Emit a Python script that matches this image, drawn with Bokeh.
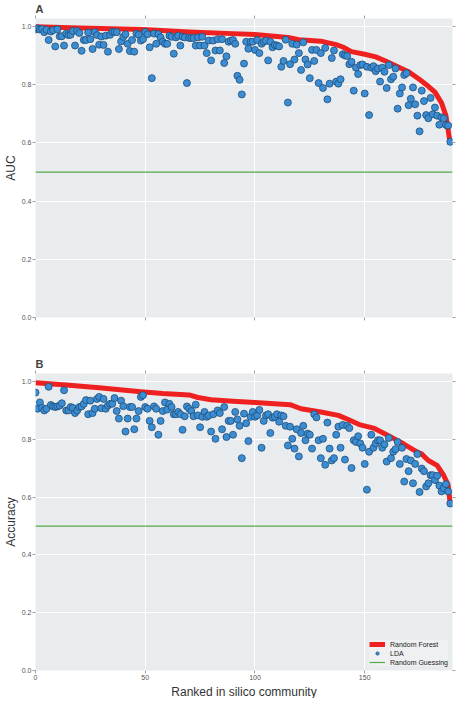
from bokeh.plotting import figure
from bokeh.models import (FixedTicker, LinearAxis, Range1d, Legend, LegendItem,
                          PrintfTickFormatter, Title)
from bokeh.layouts import column
from bokeh.embed import file_html
from bokeh.resources import INLINE

# ---------------- data ----------------
x_lim = [0, 190]
y_lim = [0.0, 1.028]
x_ticks = [0, 50, 100, 150]
y_ticks = [0.0, 0.2, 0.4, 0.6, 0.8, 1.0]
guess_level = 0.5

rank = list(range(190))

# Panel A: AUC
rf_auc_rank = [0, 20, 49, 70, 90, 100, 115, 120, 130, 137, 140, 144, 150, 155,
               160, 165, 170, 175, 179, 182, 185, 187, 188, 189]
rf_auc = [1.000, 0.995, 0.990, 0.982, 0.976, 0.973, 0.963, 0.955, 0.950, 0.938,
          0.930, 0.914, 0.905, 0.896, 0.880, 0.862, 0.845, 0.818, 0.795, 0.775,
          0.738, 0.694, 0.645, 0.595]
lda_auc = [
    0.990, 0.994, 0.990, 0.992, 0.981, 0.989, 0.954, 0.983, 0.988, 0.932,
    0.991, 0.967, 0.967, 0.935, 0.976, 0.971, 0.972, 0.985, 0.935, 0.985,
    0.978, 0.917, 0.954, 0.954, 0.980, 0.957, 0.923, 0.981, 0.971, 0.938,
    0.966, 0.937, 0.969, 0.914, 0.972, 0.982, 0.982, 0.981, 0.923, 0.949,
    0.965, 0.974, 0.941, 0.916, 0.954, 0.914, 0.976, 0.972, 0.952, 0.957,
    0.982, 0.974, 0.929, 0.823, 0.976, 0.941, 0.974, 0.963, 0.948, 0.941,
    0.941, 0.969, 0.965, 0.907, 0.963, 0.969, 0.935, 0.965, 0.963, 0.806,
    0.961, 0.961, 0.961, 0.935, 0.963, 0.935, 0.965, 0.935, 0.909, 0.952,
    0.884, 0.952, 0.918, 0.957, 0.918, 0.957, 0.875, 0.898, 0.948, 0.952,
    0.954, 0.941, 0.831, 0.817, 0.767, 0.873, 0.948, 0.924, 0.948, 0.948,
    0.920, 0.954, 0.909, 0.941, 0.948, 0.952, 0.884, 0.948, 0.929, 0.937,
    0.935, 0.932, 0.862, 0.882, 0.955, 0.739, 0.871, 0.941, 0.887, 0.938,
    0.909, 0.851, 0.946, 0.887, 0.870, 0.823, 0.920, 0.882, 0.920, 0.806,
    0.909, 0.789, 0.927, 0.750, 0.804, 0.892, 0.918, 0.811, 0.804, 0.819,
    0.905, 0.901, 0.899, 0.871, 0.879, 0.780, 0.859, 0.837, 0.868, 0.870,
    0.770, 0.862, 0.696, 0.859, 0.864, 0.847, 0.856, 0.811, 0.859, 0.845,
    0.789, 0.868, 0.819, 0.828, 0.856, 0.718, 0.770, 0.791, 0.834, 0.840,
    0.730, 0.752, 0.791, 0.733, 0.694, 0.640, 0.780, 0.744, 0.696, 0.685,
    0.755, 0.699, 0.722, 0.694, 0.663, 0.688, 0.685, 0.662, 0.660, 0.604,
]

# Panel B: Accuracy
rf_acc_rank = [0, 14, 29, 48, 58, 70, 74, 80, 90, 100, 116, 121, 130, 138, 143,
               148, 154, 160, 164, 168, 173, 176, 179, 183, 186, 188, 189]
rf_acc = [0.996, 0.988, 0.979, 0.965, 0.959, 0.954, 0.945, 0.937, 0.932, 0.928,
          0.920, 0.906, 0.895, 0.883, 0.867, 0.850, 0.839, 0.816, 0.800, 0.783,
          0.760, 0.749, 0.727, 0.710, 0.675, 0.643, 0.575]
lda_acc = [
    0.962, 0.906, 0.928, 0.909, 0.900, 0.906, 0.982, 0.919, 0.914, 0.912,
    0.914, 0.917, 0.925, 0.970, 0.900, 0.900, 0.912, 0.909, 0.891, 0.900,
    0.912, 0.914, 0.923, 0.936, 0.887, 0.934, 0.891, 0.906, 0.940, 0.947,
    0.908, 0.940, 0.906, 0.917, 0.923, 0.923, 0.943, 0.898, 0.872, 0.934,
    0.915, 0.827, 0.872, 0.912, 0.912, 0.835, 0.872, 0.898, 0.947, 0.953,
    0.912, 0.906, 0.864, 0.842, 0.914, 0.906, 0.816, 0.864, 0.898, 0.928,
    0.903, 0.923, 0.912, 0.887, 0.887, 0.895, 0.887, 0.833, 0.880, 0.914,
    0.906, 0.898, 0.880, 0.920, 0.883, 0.842, 0.878, 0.895, 0.878, 0.883,
    0.827, 0.887, 0.802, 0.900, 0.891, 0.835, 0.912, 0.808, 0.864, 0.864,
    0.816, 0.895, 0.869, 0.847, 0.735, 0.889, 0.856, 0.794, 0.878, 0.895,
    0.878, 0.883, 0.902, 0.771, 0.864, 0.883, 0.887, 0.822, 0.875, 0.878,
    0.887, 0.861, 0.883, 0.880, 0.847, 0.779, 0.844, 0.802, 0.768, 0.835,
    0.741, 0.822, 0.847, 0.797, 0.820, 0.816, 0.768, 0.887, 0.876, 0.797,
    0.735, 0.802, 0.712, 0.858, 0.768, 0.727, 0.735, 0.816, 0.844, 0.771,
    0.850, 0.730, 0.847, 0.839, 0.701, 0.797, 0.791, 0.811, 0.786, 0.771,
    0.715, 0.626, 0.757, 0.816, 0.771, 0.786, 0.797, 0.797, 0.771, 0.783,
    0.723, 0.805, 0.735, 0.757, 0.766, 0.791, 0.715, 0.771, 0.654, 0.732,
    0.690, 0.727, 0.648, 0.715, 0.749, 0.618, 0.699, 0.690, 0.637, 0.648,
    0.676, 0.676, 0.659, 0.674, 0.640, 0.620, 0.631, 0.645, 0.620, 0.578,
]

FONT = "Liberation Sans"
BG = "#e9ecee"
RED = "#ee2020"
BLUE = "#3b8dd3"
BLUE_EDGE = "#1f4e79"
GREEN = "#55a84a"


def style_axis(ax, show_labels=True):
    ax.axis_line_color = None
    ax.major_tick_line_color = "#a0a0a0"
    ax.major_tick_out = 3
    ax.major_tick_in = 0
    ax.minor_tick_line_color = None
    ax.major_label_text_font = FONT
    ax.major_label_text_font_size = "7px"
    ax.major_label_text_color = "#555555" if show_labels else None
    ax.major_label_standoff = 1
    ax.axis_label_text_font = FONT
    ax.axis_label_text_font_size = "12px"
    ax.axis_label_text_font_style = "normal"
    ax.axis_label_text_color = "#333333"
    ax.axis_label_standoff = 1


def make_panel(letter, ylabel, rf_x, rf_y, lda_y, height, top, bottom,
               show_x, with_legend):
    p = figure(width=458, height=height, output_backend="svg",
               toolbar_location=None,
               x_range=Range1d(x_lim[0], x_lim[1]),
               y_range=Range1d(y_lim[0], y_lim[1]),
               min_border_left=0, min_border_right=6,
               min_border_top=top, min_border_bottom=bottom)
    p.title.text = letter
    p.title.text_font = FONT
    p.title.text_font_size = "11px"
    p.title.text_font_style = "bold"
    p.title.align = "left"
    p.title.standoff = 1
    p.background_fill_color = BG
    p.border_fill_color = "white"
    p.outline_line_color = None

    p.xgrid.grid_line_color = "white"
    p.ygrid.grid_line_color = "white"
    p.xgrid.ticker = FixedTicker(ticks=x_ticks)
    p.ygrid.ticker = FixedTicker(ticks=y_ticks)

    xa = p.xaxis[0]
    ya = p.yaxis[0]
    xa.ticker = FixedTicker(ticks=x_ticks)
    ya.ticker = FixedTicker(ticks=y_ticks)
    style_axis(xa, show_x)
    style_axis(ya, True)
    ya.formatter = PrintfTickFormatter(format="%.1f")
    ya.axis_label = ylabel
    if show_x:
        xl = Title(text="Ranked in silico community", align="center",
                   text_font=FONT, text_font_size="12px",
                   text_font_style="normal", text_color="#333333",
                   standoff=0, offset=0)
        p.add_layout(xl, "below")
    else:
        xa.major_label_text_font_size = "0px"
        xa.major_label_standoff = 0

    right = LinearAxis(ticker=FixedTicker(ticks=y_ticks))
    top_ax = LinearAxis(ticker=FixedTicker(ticks=x_ticks))
    for ax in (right, top_ax):
        style_axis(ax, False)
        ax.major_label_text_font_size = "0px"
        ax.major_label_standoff = 0
    p.add_layout(right, "right")
    p.add_layout(top_ax, "above")

    rf_r = p.line(rf_x, rf_y, line_color=RED, line_width=5, line_join="round")
    guess_r = p.line(x_lim, [guess_level, guess_level], line_color=GREEN,
                     line_width=1.2)
    lda_r = p.scatter(rank, lda_y, size=7, fill_color=BLUE,
                      line_color=BLUE_EDGE, line_width=0.8)

    if with_legend:
        leg = Legend(items=[LegendItem(label="Random Forest", renderers=[rf_r]),
                            LegendItem(label="LDA", renderers=[lda_r]),
                            LegendItem(label="Random Guessing", renderers=[guess_r])],
                     location="bottom_right")
        leg.label_text_font = FONT
        leg.label_text_font_size = "7px"
        leg.label_text_color = "#222222"
        leg.label_height = 8
        leg.label_standoff = 5
        leg.glyph_height = 8
        leg.glyph_width = 16
        leg.spacing = 1
        leg.padding = 4
        leg.margin = 4
        leg.background_fill_color = "#eef0f1"
        leg.background_fill_alpha = 1
        leg.border_line_color = None
        p.add_layout(leg)
    return p


pA = make_panel("A", "AUC", rf_auc_rank, rf_auc, lda_auc, 342, 0, 25, False, False)
pB = make_panel("B", "Accuracy", rf_acc_rank, rf_acc, lda_acc, 356, 31, 0, True, True)

layout = column(pA, pB)
open("out.html", "w").write(file_html(layout, INLINE))
